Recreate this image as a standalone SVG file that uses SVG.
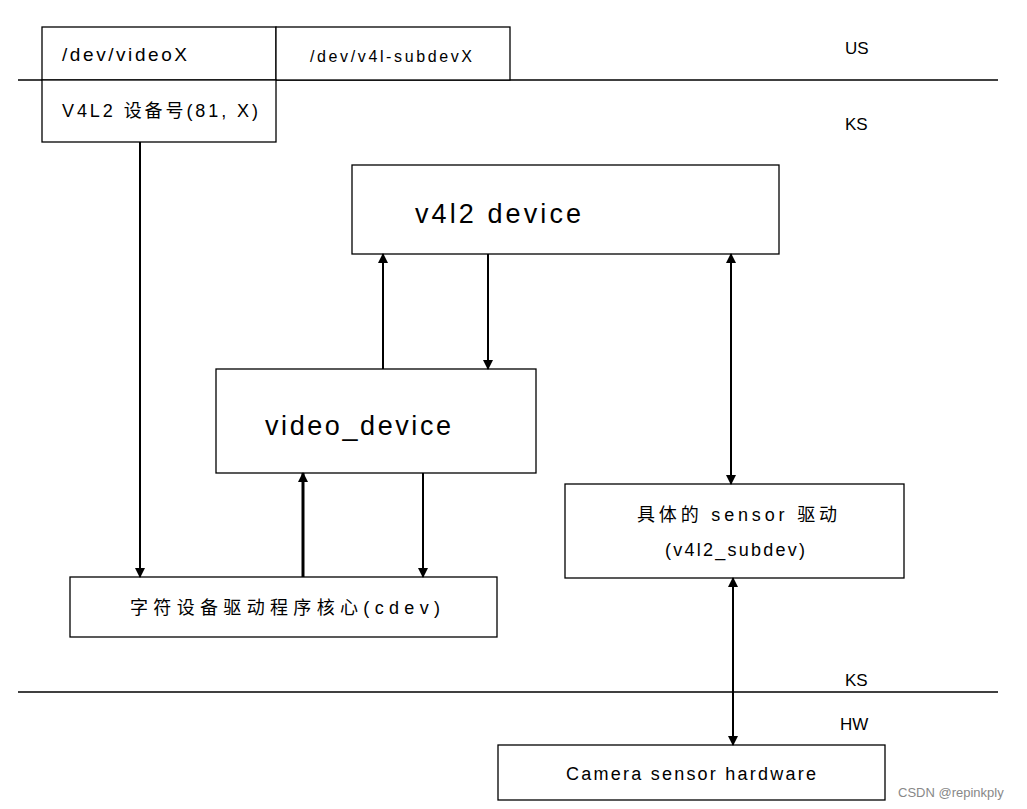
<svg xmlns="http://www.w3.org/2000/svg" width="1027" height="809" viewBox="0 0 1027 809">
<defs><marker id="a" markerWidth="10" markerHeight="10" refX="9" refY="5" orient="auto-start-reverse" markerUnits="userSpaceOnUse"><path d="M0,0 L10,5 L0,10 z" fill="#000"/></marker></defs>
<style>
.b{fill:#fff;stroke:#000;stroke-width:1.3}
.t{font-family:"Liberation Sans","Noto Sans CJK SC",sans-serif;fill:#000}
.c line{stroke:#000;stroke-width:2}
</style>
<rect width="1027" height="809" fill="#fff"/>
<line x1="18" y1="80" x2="998" y2="80" stroke="#000" stroke-width="1.3"/>
<line x1="18" y1="692" x2="998" y2="692" stroke="#000" stroke-width="1.3"/>
<text class="t" x="845" y="54" font-size="17">US</text>
<text class="t" x="845" y="130" font-size="17">KS</text>
<text class="t" x="845" y="686" font-size="17">KS</text>
<text class="t" x="840" y="730" font-size="17">HW</text>
<g id="videoX"><rect class="b" x="42" y="27" width="234" height="53"/><text class="t" x="62" y="61" font-size="19" textLength="125">/dev/videoX</text></g>
<g id="subdevX"><rect class="b" x="276" y="27" width="234" height="53"/><text class="t" x="310" y="62" font-size="16" textLength="162">/dev/v4l-subdevX</text></g>
<g id="devnum"><rect class="b" x="42" y="80" width="234" height="62"/><text class="t" x="62" y="117" font-size="18" textLength="196">V4L2 设备号(81, X)</text></g>
<g id="v4l2dev"><rect class="b" x="352" y="165" width="427" height="89"/><text class="t" x="415" y="223" font-size="27" textLength="166">v4l2 device</text></g>
<g id="videodev"><rect class="b" x="216" y="369" width="320" height="104"/><text class="t" x="265" y="435" font-size="27" textLength="186">video_device</text></g>
<g id="sensor"><rect class="b" x="565" y="484" width="339" height="94"/><text class="t" x="637" y="521" font-size="18" textLength="200">具体的 sensor 驱动</text><text class="t" x="665" y="556" font-size="18" textLength="140">(v4l2_subdev)</text></g>
<g id="cdev"><rect class="b" x="70" y="577" width="427" height="60"/><text class="t" x="130" y="614" font-size="18" textLength="310">字符设备驱动程序核心(cdev)</text></g>
<g id="hw"><rect class="b" x="498" y="745" width="387" height="55"/><text class="t" x="566" y="780" font-size="18" textLength="250">Camera sensor hardware</text></g>
<text x="898" y="797" font-size="13" fill="#888" font-family="Liberation Sans,sans-serif">CSDN @repinkply</text>
<g class="c">
<line x1="140" y1="142" x2="140" y2="577" marker-end="url(#a)"/>
<line x1="383" y1="369" x2="383" y2="254" marker-end="url(#a)"/>
<line x1="488" y1="254" x2="488" y2="369" marker-end="url(#a)"/>
<line x1="303" y1="577" x2="303" y2="473" marker-end="url(#a)" style="stroke-width:3"/>
<line x1="423" y1="473" x2="423" y2="577" marker-end="url(#a)"/>
<line x1="731" y1="254" x2="731" y2="484" marker-start="url(#a)" marker-end="url(#a)"/>
<line x1="733" y1="578" x2="733" y2="745" marker-start="url(#a)" marker-end="url(#a)"/>
</g>
</svg>
